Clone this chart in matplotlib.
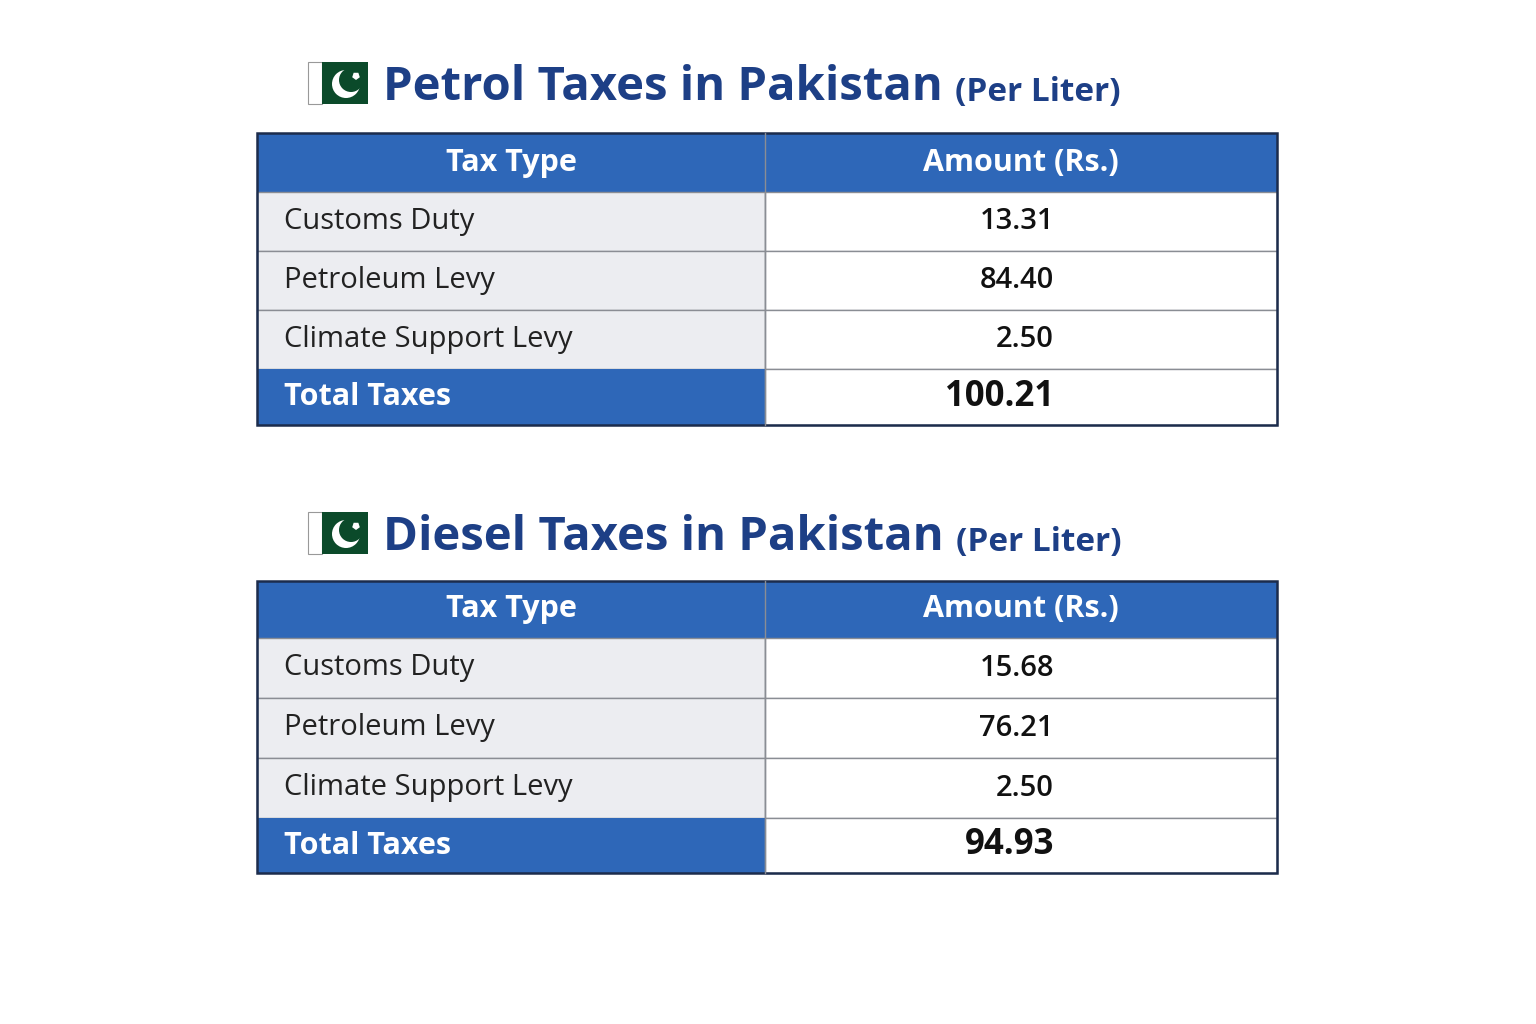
import matplotlib.pyplot as plt
from matplotlib.patches import Rectangle, Circle, RegularPolygon

plt.rcParams['font.family'] = ['Open Sans', 'DejaVu Sans']

tax_types = ['Customs Duty', 'Petroleum Levy', 'Climate Support Levy']
petrol_amounts = ['13.31', '84.40', '2.50']
petrol_total = '100.21'
diesel_amounts = ['15.68', '76.21', '2.50']
diesel_total = '94.93'
headers = ['Tax Type', 'Amount (Rs.)']

BLUE = '#2e67b8'
NAVY = '#1d3f86'
EDGE = '#1c2c4c'

fig = plt.figure(figsize=(15.36, 10.24), dpi=100)
ax = fig.add_axes([0, 0, 1, 1])
ax.set_xlim(0, 1536)
ax.set_ylim(1024, 0)
ax.axis('off')


def flag(x, y):
    ax.add_patch(Rectangle((x, y), 14, 42, fc='white', ec='#999999', lw=0.8))
    ax.add_patch(Rectangle((x + 14, y), 46, 42, fc='#0b4a2a', ec='none'))
    cx, cy = x + 38, y + 22
    ax.add_patch(Circle((cx, cy), 14, fc='white', ec='none'))
    ax.add_patch(Circle((cx + 5, cy - 4), 12, fc='#0b4a2a', ec='none'))
    ax.add_patch(RegularPolygon((cx + 10, cy - 8), 5, radius=4, fc='white', ec='none'))


def title(y, main):
    flag(308, y - 26)
    t = ax.text(383, y, main, fontsize=34, fontweight='bold', color=NAVY,
                va='center', ha='left', fontstretch='condensed')
    fig.canvas.draw()
    bb = t.get_window_extent()
    x_end = bb.x1
    ax.text(x_end + 12, y + 4, '(Per Liter)', fontsize=24, fontweight='bold',
            color=NAVY, va='center', ha='left')


def table(top, header_h, row_h, total_h, amounts, total):
    x0, xm, x1 = 257, 765, 1277
    ax.add_patch(Rectangle((x0, top), x1 - x0, header_h, fc=BLUE, ec='none'))
    ax.text((x0 + xm) / 2, top + header_h / 2, headers[0], fontsize=22, fontweight='bold',
            color='white', ha='center', va='center')
    ax.text((xm + x1) / 2, top + header_h / 2, headers[1], fontsize=22, fontweight='bold',
            color='white', ha='center', va='center')
    y = top + header_h
    for name, val in zip(tax_types, amounts):
        ax.add_patch(Rectangle((x0, y), xm - x0, row_h, fc='#ecedf1', ec='#8a8d94', lw=1))
        ax.add_patch(Rectangle((xm, y), x1 - xm, row_h, fc='white', ec='#8a8d94', lw=1))
        ax.text(284, y + row_h / 2, name, fontsize=21, color='#222222', va='center')
        ax.text(1054, y + row_h / 2, val, fontsize=21, color='#111111', va='center', ha='right',
                fontweight='semibold')
        y += row_h
    ax.add_patch(Rectangle((x0, y), xm - x0, total_h, fc=BLUE, ec='none'))
    ax.add_patch(Rectangle((xm, y), x1 - xm, total_h, fc='white', ec='#8a8d94', lw=1))
    ax.text(284, y + total_h / 2, 'Total Taxes', fontsize=22, fontweight='bold', color='white', va='center')
    ax.text(1054, y + total_h / 2, total, fontsize=25, fontweight='bold', color='#111111',
            va='center', ha='right')
    y += total_h
    ax.plot([xm, xm], [top, y], color='#8a8d94', lw=1)
    ax.add_patch(Rectangle((x0, top), x1 - x0, y - top, fc='none', ec=EDGE, lw=1.8))


title(88, 'Petrol Taxes in Pakistan')
table(133, 59, 59, 56, petrol_amounts, petrol_total)
title(538, 'Diesel Taxes in Pakistan')
table(581, 57, 60, 55, diesel_amounts, diesel_total)

fig.savefig('out.png', dpi=100, facecolor='white')
